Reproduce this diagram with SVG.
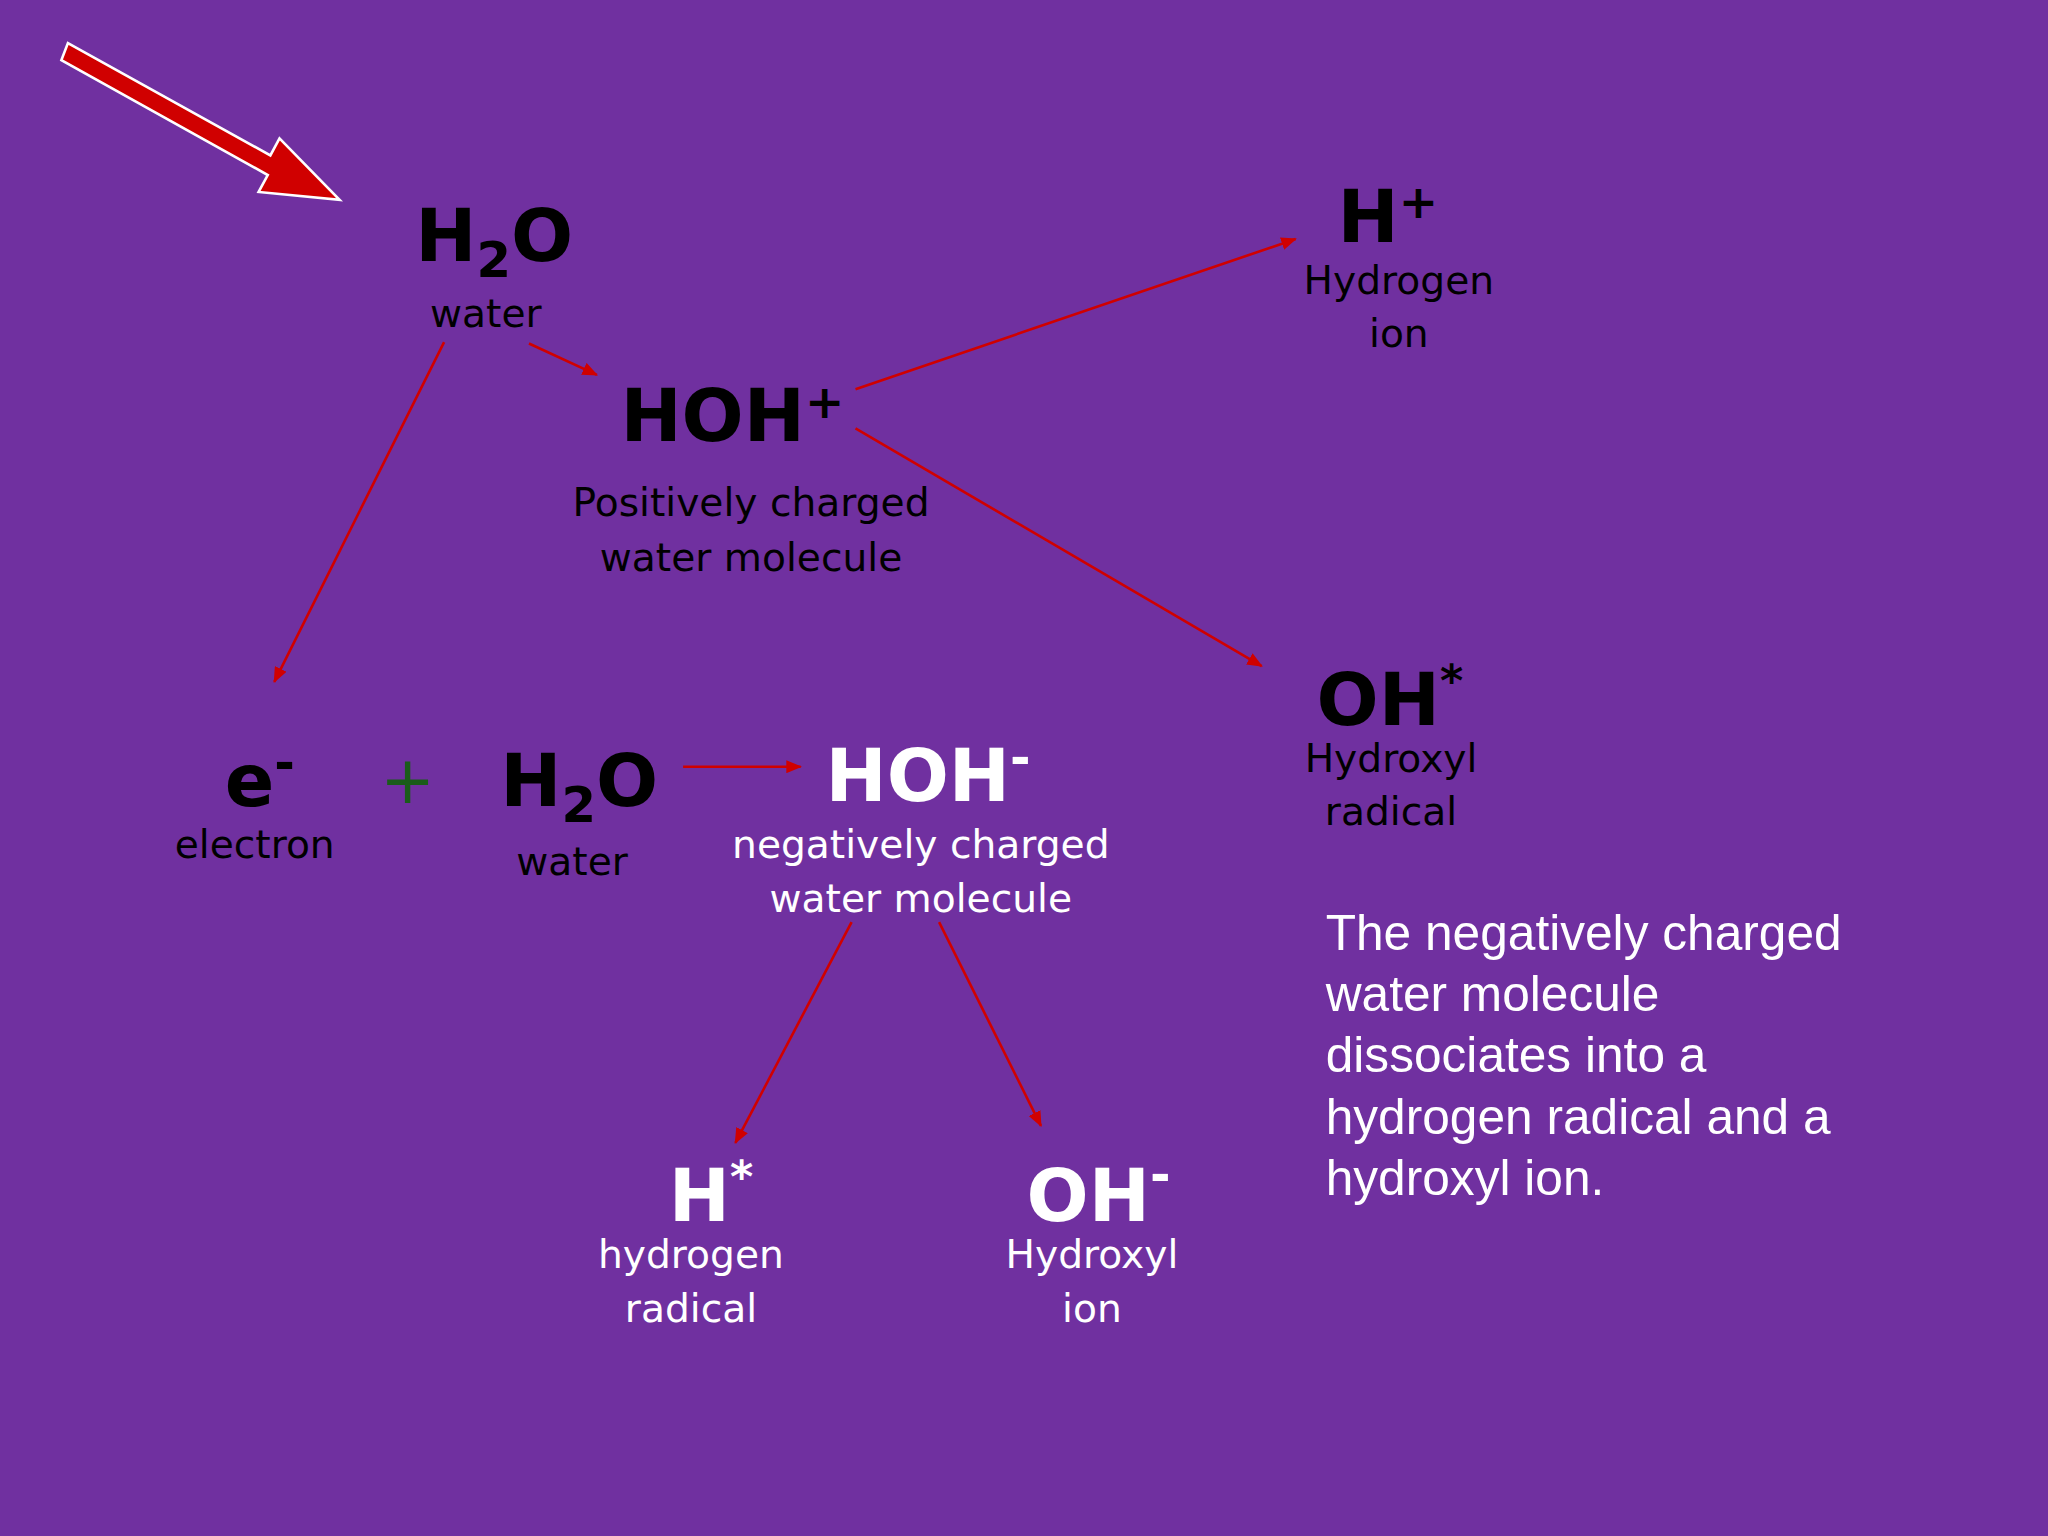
<svg xmlns="http://www.w3.org/2000/svg" width="2048" height="1536" viewBox="0 0 2048 1536">
<style>
.f{font-family:"DejaVu Sans",Verdana,sans-serif;font-weight:bold;font-size:56px}
.s{font-family:"DejaVu Sans",Verdana,sans-serif;font-size:30px}
.p{font-family:"Liberation Sans",Arial,sans-serif;font-size:38px;fill:#fff}
.k{fill:#000}.w{fill:#fff}
.c line{stroke:#d00000;stroke-width:2;marker-end:url(#a)}
</style>
<defs><marker id="a" markerWidth="12" markerHeight="10" refX="11" refY="5" orient="auto" markerUnits="userSpaceOnUse"><path d="M0,0 L12,5 L0,10 Z" fill="#d00000"/></marker></defs>
<rect width="2048" height="1536" fill="#7030A0"/>
<g transform="scale(1.30612)">
<g id="bigarrow"><polygon points="52,33 207,119 214,106 260,153 198,147 205,134 47,46" fill="#d00000" stroke="#fff" stroke-width="2"/></g>
<g class="c" id="connectors">
<line x1="405" y1="263" x2="457" y2="287"/>
<line x1="340" y1="262" x2="210" y2="522"/>
<line x1="655" y1="298" x2="992" y2="183"/>
<line x1="655" y1="328" x2="966" y2="510"/>
<line x1="523" y1="587" x2="613" y2="587"/>
<line x1="652" y1="706" x2="563" y2="875"/>
<line x1="719" y1="706" x2="797" y2="862"/>
</g>
<g id="h2o1"><text x="318" y="200" class="f k">H<tspan font-size="38" dy="12">2</tspan><tspan dy="-12">O</tspan></text><text x="372" y="250" class="s k" text-anchor="middle">water</text></g>
<g id="hohp"><text x="475" y="338" class="f k">HOH<tspan font-size="36" dy="-18">+</tspan></text><text x="575" y="395" class="s k" text-anchor="middle">Positively charged</text><text x="575" y="437" class="s k" text-anchor="middle">water molecule</text></g>
<g id="hp"><text x="1024" y="185" class="f k">H<tspan font-size="36" dy="-18">+</tspan></text><text x="1071" y="225" class="s k" text-anchor="middle">Hydrogen</text><text x="1071" y="266" class="s k" text-anchor="middle">ion</text></g>
<g id="ohstar"><text x="1008" y="555" class="f k">OH<tspan font-size="34" dy="-22">*</tspan></text><text x="1065" y="591" class="s k" text-anchor="middle">Hydroxyl</text><text x="1065" y="632" class="s k" text-anchor="middle">radical</text></g>
<g id="electron"><text x="172" y="617" class="f k">e<tspan font-size="38" dy="-20">-</tspan></text><text x="195" y="657" class="s k" text-anchor="middle">electron</text></g>
<g id="plus"><text x="312" y="615" font-family="DejaVu Sans,sans-serif" font-size="50" fill="#1a5c1a" text-anchor="middle">+</text></g>
<g id="h2o2"><text x="383" y="617" class="f k">H<tspan font-size="38" dy="12">2</tspan><tspan dy="-12">O</tspan></text><text x="438" y="670" class="s k" text-anchor="middle">water</text></g>
<g id="hohm"><text x="632" y="613" class="f w">HOH<tspan font-size="38" dy="-20">-</tspan></text><text x="705" y="657" class="s w" text-anchor="middle">negatively charged</text><text x="705" y="698" class="s w" text-anchor="middle">water molecule</text></g>
<g id="hstar"><text x="512" y="935" class="f w">H<tspan font-size="34" dy="-22">*</tspan></text><text x="529" y="971" class="s w" text-anchor="middle">hydrogen</text><text x="529" y="1012" class="s w" text-anchor="middle">radical</text></g>
<g id="ohm"><text x="786" y="935" class="f w">OH<tspan font-size="38" dy="-22">-</tspan></text><text x="836" y="971" class="s w" text-anchor="middle">Hydroxyl</text><text x="836" y="1012" class="s w" text-anchor="middle">ion</text></g>
<g id="para"><text class="p"><tspan x="1015" y="727">The negatively charged</tspan><tspan x="1015" y="774">water molecule</tspan><tspan x="1015" y="821">dissociates into a</tspan><tspan x="1015" y="868">hydrogen radical and a</tspan><tspan x="1015" y="915">hydroxyl ion.</tspan></text></g>
</g>
</svg>
